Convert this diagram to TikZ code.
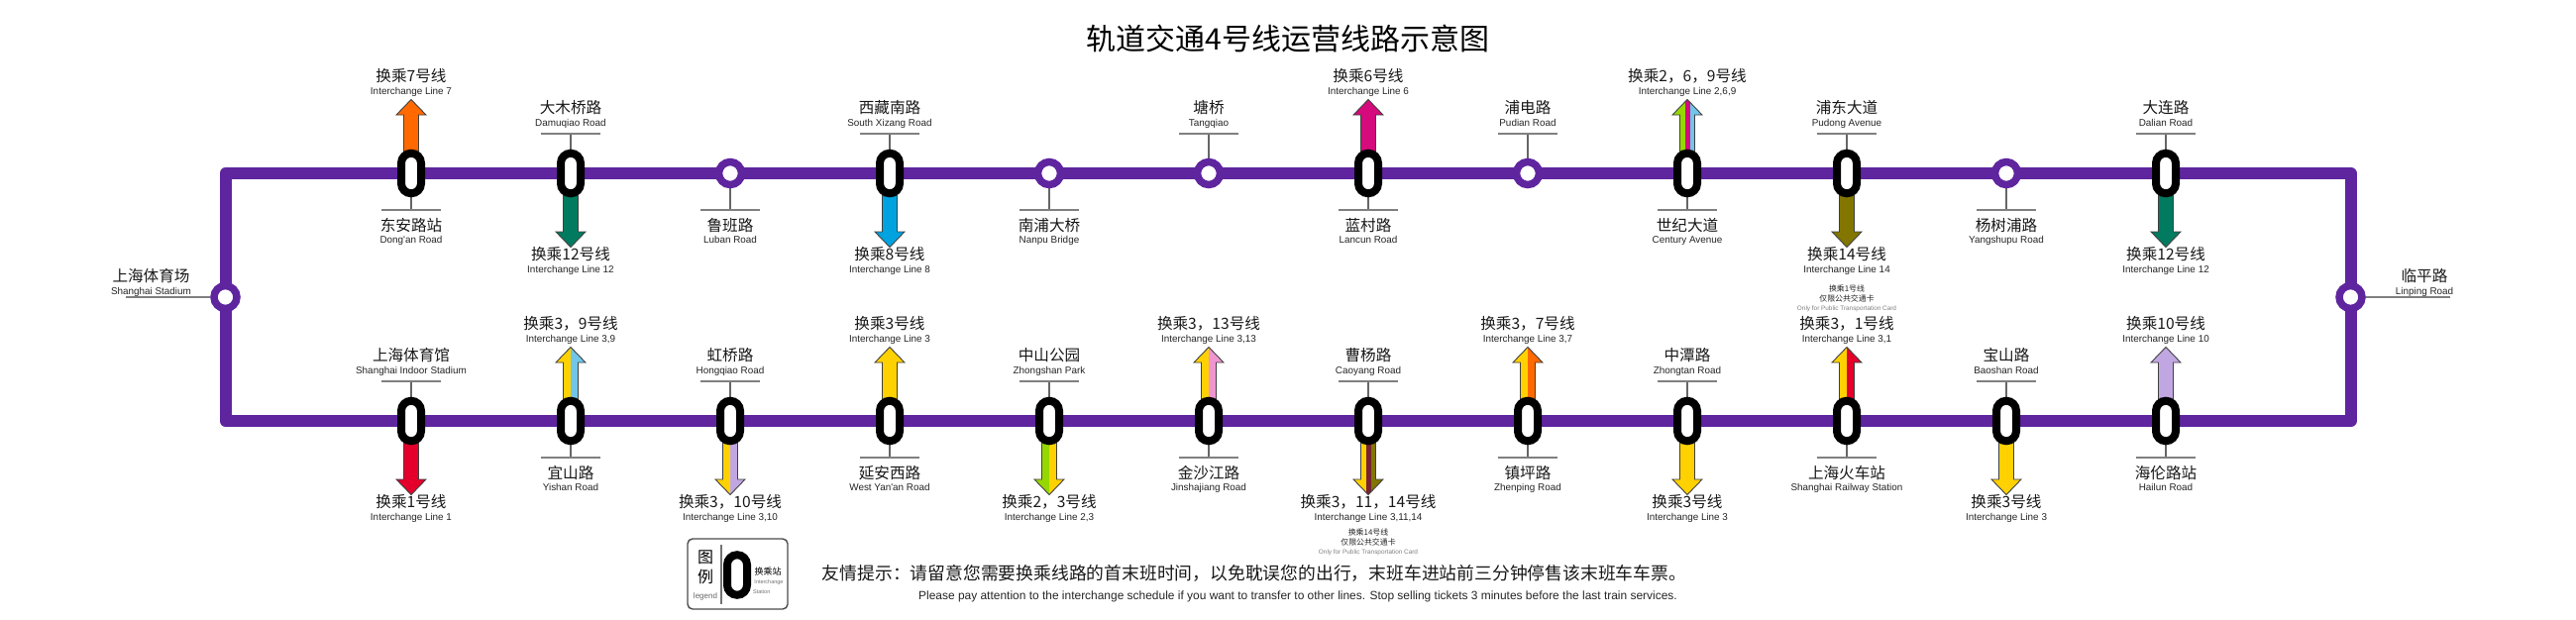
\documentclass[tikz,border=0pt]{standalone}
\usepackage{fontspec}
\setmainfont{Liberation Sans}
\newfontfamily\enfont{Liberation Sans}
\newfontfamily\cjk{Noto Sans CJK SC}
\usetikzlibrary{calc}
\pgfdeclarelayer{page}
\pgfdeclarelayer{back}
\pgfsetlayers{page,back,main}
\definecolor{lineP}{HTML}{5F259F}
\definecolor{lA}{HTML}{E4002B}
\definecolor{lB}{HTML}{97D700}
\definecolor{lC}{HTML}{FFD100}
\definecolor{lF}{HTML}{D50A7C}
\definecolor{lG}{HTML}{FF6900}
\definecolor{lH}{HTML}{00A3E0}
\definecolor{lI}{HTML}{71C5E8}
\definecolor{lJ}{HTML}{C1A7E2}
\definecolor{lK}{HTML}{76232F}
\definecolor{lL}{HTML}{007B5F}
\definecolor{lM}{HTML}{EF95CF}
\definecolor{lN}{HTML}{827600}
\tikzset{
  xnode/.style={draw=black,fill=white,line width=8pt,rectangle,rounded corners=10pt,minimum width=20pt,minimum height=40.5pt,inner sep=0pt},
  snode/.style={draw=lineP,fill=white,line width=7.5pt,circle,minimum size=23pt,inner sep=0pt},
  track/.style={draw=lineP,line width=12pt,line join=round},
  barh/.style={fill=black!50,minimum width=60pt,minimum height=1.8pt,inner sep=0pt,rectangle},
  stem/.style={draw=black!60,line width=1.3pt},
  cnl/.style={font=\cjk\fontsize{15.6}{16}\selectfont,inner sep=0pt,text height=13.6pt,text depth=2pt,text=black!90},
  enl/.style={font=\enfont\fontsize{9.9}{11}\selectfont,inner sep=0pt,text height=7.2pt,text depth=0pt,text=black!85},
  cns/.style={font=\cjk\fontsize{7.9}{9}\selectfont,inner sep=0pt,text height=6.9pt,text depth=1pt,text=black!85},
  ens/.style={font=\enfont\fontsize{6.4}{8}\selectfont,inner sep=0pt,text height=4.6pt,text depth=0pt,text=black!50},
  arrowline/.style={draw=black!75,line width=0.9pt,line join=miter},
}
% stripes
\newcommand\sA[1]{\fill[#1] (-16,-80) rectangle (16,5);}
\newcommand\sB[2]{\fill[#1] (-16,-80) rectangle (0,5);\fill[#2] (0,-80) rectangle (16,5);}
\newcommand\sC[3]{\fill[#1] (-16,-80) rectangle (-2.5,5);\fill[#2] (-2.5,-80) rectangle (2.5,5);\fill[#3] (2.5,-80) rectangle (16,5);}
% arrow body
\newcommand\arrowbody[3]{%
  \begin{pgfonlayer}{back}
  \begin{scope}[shift={(#1.center)},yscale=#2]
    \begin{scope}
      \clip (-7.5,0) -- (-7.5,-59) -- (-15,-59) -- (0,-74.5) -- (15,-59) -- (7.5,-59) -- (7.5,0) -- cycle;
      #3
    \end{scope}
    \draw[arrowline] (-7.5,0) -- (-7.5,-59) -- (-15,-59) -- (0,-74.5) -- (15,-59) -- (7.5,-59) -- (7.5,0);
  \end{scope}
  \end{pgfonlayer}}
\newcommand\arrup[4]{\arrowbody{#1}{1}{#2}%
  \node[cnl] (#1acn) at ([yshift=98pt]#1.center) {#3};
  \node[enl] (#1aen) at ([yshift=83pt]#1.center) {#4};}
\newcommand\arrdn[4]{\arrowbody{#1}{-1}{#2}%
  \node[cnl] (#1acn) at ([yshift=-82pt]#1.center) {#3};
  \node[enl] (#1aen) at ([yshift=-97pt]#1.center) {#4};}
% station labels
\newcommand\labup[3]{%
  \node[barh] (#1bar) at ([yshift=40pt]#1.center) {};
  \begin{pgfonlayer}{back}\draw[stem] (#1bar.south) -- (#1.north);\end{pgfonlayer}
  \node[cnl] (#1cn) at ([yshift=66pt]#1.center) {#2};
  \node[enl] (#1en) at ([yshift=51pt]#1.center) {#3};}
\newcommand\labdn[3]{%
  \node[barh] (#1bar) at ([yshift=-37pt]#1.center) {};
  \begin{pgfonlayer}{back}\draw[stem] (#1bar.north) -- (#1.south);\end{pgfonlayer}
  \node[cnl] (#1cn) at ([yshift=-52.5pt]#1.center) {#2};
  \node[enl] (#1en) at ([yshift=-66.7pt]#1.center) {#3};}
\newcommand\notebelow[4]{%
  \node[cns] (#1na) at ([yshift=-#2pt]#1.center) {#3};
  \node[cns] (#1nb) at ([yshift=-#2pt-10pt]#1.center) {仅限公共交通卡};
  \node[ens] (#1nc) at ([yshift=-#2pt-19pt]#1.center) {Only for Public Transportation Card};}
\begin{document}
\begin{tikzpicture}[x=1pt,y=-1pt]
\begin{pgfonlayer}{page}
\fill[white] (0,0) rectangle (2600,625);
\end{pgfonlayer}
\useasboundingbox (0,0) rectangle (2600,625);
% stations
\node[snode] (tl) at (227.5,300) {};
\node[snode] (tr) at (2372.5,300) {};
\coordinate (nw) at (227.5,175);
\coordinate (ne) at (2372.5,175);
\coordinate (se) at (2372.5,425);
\coordinate (sw) at (227.5,425);
\begin{pgfonlayer}{back}
\draw[track] (nw) -- (ne) -- (se) -- (sw) -- cycle;
\end{pgfonlayer}
\node[font=\cjk\fontsize{30}{32}\selectfont,inner sep=0pt,text height=26.2pt,text depth=3.8pt] (title) at (1300,39) {轨道交通4号线运营线路示意图};
% terminals
\node[cnl] (tlcn) at (152.5,279) {上海体育场};
\node[enl] (tlen) at (152.5,294) {Shanghai Stadium};
\coordinate (tlend) at (127,300);
\begin{pgfonlayer}{back}\draw[draw=black!50,line width=1.8pt] (tlend) -- (tl);\end{pgfonlayer}
\node[cnl] (trcn) at (2447,279) {临平路};
\node[enl] (tren) at (2447,294) {Linping Road};
\coordinate (trend) at (2473,300);
\begin{pgfonlayer}{back}\draw[draw=black!50,line width=1.8pt] (trend) -- (tr);\end{pgfonlayer}
% top row
\node[xnode] (ta) at (415,175) {};
\labdn{ta}{东安路站}{Dong'an Road}
\arrup{ta}{\sA{lG}}{换乘7号线}{Interchange Line 7}
\node[xnode] (tb) at (576,175) {};
\labup{tb}{大木桥路}{Damuqiao Road}
\arrdn{tb}{\sA{lL}}{换乘12号线}{Interchange Line 12}
\node[snode] (tc) at (737,175) {};
\labdn{tc}{鲁班路}{Luban Road}
\node[xnode] (td) at (898,175) {};
\labup{td}{西藏南路}{South Xizang Road}
\arrdn{td}{\sA{lH}}{换乘8号线}{Interchange Line 8}
\node[snode] (te) at (1059,175) {};
\labdn{te}{南浦大桥}{Nanpu Bridge}
\node[snode] (tf) at (1220,175) {};
\labup{tf}{塘桥}{Tangqiao}
\node[xnode] (tg) at (1381,175) {};
\labdn{tg}{蓝村路}{Lancun Road}
\arrup{tg}{\sA{lF}}{换乘6号线}{Interchange Line 6}
\node[snode] (th) at (1542,175) {};
\labup{th}{浦电路}{Pudian Road}
\node[xnode] (ti) at (1703,175) {};
\labdn{ti}{世纪大道}{Century Avenue}
\arrup{ti}{\sC{lB}{lF}{lI}}{换乘2，6，9号线}{Interchange Line 2,6,9}
\node[xnode] (tj) at (1864,175) {};
\labup{tj}{浦东大道}{Pudong Avenue}
\arrdn{tj}{\sA{lN}}{换乘14号线}{Interchange Line 14}
\notebelow{tj}{117}{换乘1号线}{}
\node[snode] (tk) at (2025,175) {};
\labdn{tk}{杨树浦路}{Yangshupu Road}
\node[xnode] (tm) at (2186,175) {};
\labup{tm}{大连路}{Dalian Road}
\arrdn{tm}{\sA{lL}}{换乘12号线}{Interchange Line 12}
% bottom row
\node[xnode] (ba) at (415,425) {};
\labup{ba}{上海体育馆}{Shanghai Indoor Stadium}
\arrdn{ba}{\sA{lA}}{换乘1号线}{Interchange Line 1}
\node[xnode] (bb) at (576,425) {};
\labdn{bb}{宜山路}{Yishan Road}
\arrup{bb}{\sB{lC}{lI}}{换乘3，9号线}{Interchange Line 3,9}
\node[xnode] (bc) at (737,425) {};
\labup{bc}{虹桥路}{Hongqiao Road}
\arrdn{bc}{\sB{lC}{lJ}}{换乘3，10号线}{Interchange Line 3,10}
\node[xnode] (bd) at (898,425) {};
\labdn{bd}{延安西路}{West Yan'an Road}
\arrup{bd}{\sA{lC}}{换乘3号线}{Interchange Line 3}
\node[xnode] (be) at (1059,425) {};
\labup{be}{中山公园}{Zhongshan Park}
\arrdn{be}{\sB{lB}{lC}}{换乘2，3号线}{Interchange Line 2,3}
\node[xnode] (bf) at (1220,425) {};
\labdn{bf}{金沙江路}{Jinshajiang Road}
\arrup{bf}{\sB{lC}{lM}}{换乘3，13号线}{Interchange Line 3,13}
\node[xnode] (bg) at (1381,425) {};
\labup{bg}{曹杨路}{Caoyang Road}
\arrdn{bg}{\sC{lC}{lK}{lN}}{换乘3，11，14号线}{Interchange Line 3,11,14}
\notebelow{bg}{113}{换乘14号线}{}
\node[xnode] (bh) at (1542,425) {};
\labdn{bh}{镇坪路}{Zhenping Road}
\arrup{bh}{\sB{lC}{lG}}{换乘3，7号线}{Interchange Line 3,7}
\node[xnode] (bi) at (1703,425) {};
\labup{bi}{中潭路}{Zhongtan Road}
\arrdn{bi}{\sA{lC}}{换乘3号线}{Interchange Line 3}
\node[xnode] (bj) at (1864,425) {};
\labdn{bj}{上海火车站}{Shanghai Railway Station}
\arrup{bj}{\sB{lC}{lA}}{换乘3，1号线}{Interchange Line 3,1}
\node[xnode] (bk) at (2025,425) {};
\labup{bk}{宝山路}{Baoshan Road}
\arrdn{bk}{\sA{lC}}{换乘3号线}{Interchange Line 3}
\node[xnode] (bm) at (2186,425) {};
\labdn{bm}{海伦路站}{Hailun Road}
\arrup{bm}{\sA{lJ}}{换乘10号线}{Interchange Line 10}
% legend
\node[draw=black!70,line width=1.4pt,rounded corners=5pt,minimum width=101pt,minimum height=71pt,inner sep=0pt,fill=white] (legbox) at (744.5,579.5) {};
\node[fill=black!55,minimum width=1.8pt,minimum height=60pt,inner sep=0pt] (legdiv) at (728,580) {};
\node[font=\cjk\fontsize{16}{17}\selectfont,inner sep=0pt] (legA) at (712,563) {图};
\node[font=\cjk\fontsize{16}{17}\selectfont,inner sep=0pt] (legB) at (712,582.5) {例};
\node[font=\enfont\fontsize{8}{9}\selectfont,inner sep=0pt,text=black!60] (legC) at (712,602) {legend};
\node[xnode] (legX) at (744,580.5) {};
\node[font=\cjk\fontsize{9}{10}\selectfont,inner sep=0pt] (legD) at (775,577) {换乘站};
\node[font=\enfont\fontsize{5.5}{7}\selectfont,inner sep=0pt,text=black!55] (legE) at (776,588) {Interchange};
\node[font=\enfont\fontsize{5.5}{7}\selectfont,inner sep=0pt,text=black!55,anchor=west] (legF) at (760,597.5) {Station};
% notice
\node[font=\cjk\fontsize{17.8}{19}\selectfont,inner sep=0pt,text height=15.5pt,text depth=2.3pt,text=black!90] (noticeCN) at (1266,579) {友情提示：请留意您需要换乘线路的首末班时间，以免耽误您的出行，末班车进站前三分钟停售该末班车车票。};
\node[font=\enfont\fontsize{11.95}{13}\selectfont,inner sep=0pt,text height=8.6pt,text depth=0pt,text=black!85] (noticeEN) at (1310,601) {Please pay attention to the interchange schedule if you want to transfer to other lines. Stop selling tickets 3 minutes before the last train services.};
\end{tikzpicture}
\end{document}
